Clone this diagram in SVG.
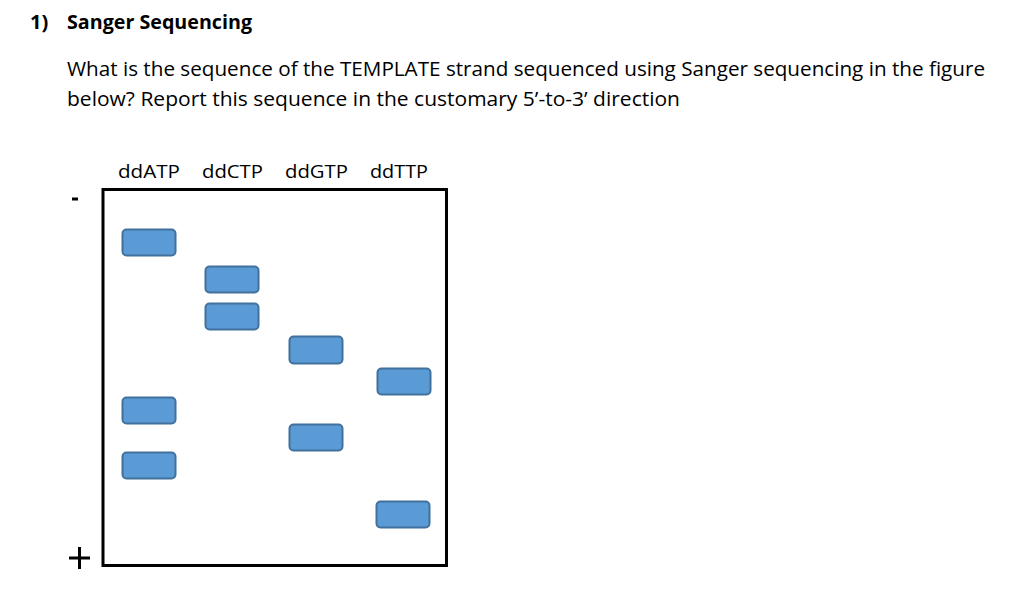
<svg xmlns="http://www.w3.org/2000/svg" width="1024" height="590" viewBox="0 0 1024 590">
<style>
text{font-family:"Open Sans","Liberation Sans",sans-serif;fill:#000}
.t{font-size:20px}
.h{font-size:20px;font-weight:bold}
.l{font-size:18px}
.band{fill:#5B9BD5;stroke:#41719C;stroke-width:2}
</style>
<rect width="1024" height="590" fill="#fff"/>
<text class="h" x="30" y="29">1)</text>
<text class="h" x="67" y="29" textLength="185" lengthAdjust="spacingAndGlyphs">Sanger Sequencing</text>
<text class="t" x="67" y="76" textLength="918" lengthAdjust="spacingAndGlyphs">What is the sequence of the TEMPLATE strand sequenced using Sanger sequencing in the figure</text>
<text class="t" x="67" y="106" textLength="613" lengthAdjust="spacingAndGlyphs">below? Report this sequence in the customary 5’-to-3’ direction</text>
<g id="labels">
<text class="l" x="118" y="178" textLength="62" lengthAdjust="spacingAndGlyphs">ddATP</text>
<text class="l" x="202" y="178" textLength="61" lengthAdjust="spacingAndGlyphs">ddCTP</text>
<text class="l" x="285" y="178" textLength="63" lengthAdjust="spacingAndGlyphs">ddGTP</text>
<text class="l" x="370" y="178" textLength="58" lengthAdjust="spacingAndGlyphs">ddTTP</text>
</g>
<g id="gel">
<rect x="103" y="189.5" width="343.5" height="376" fill="none" stroke="#000" stroke-width="3"/>
<line x1="72" y1="199" x2="78" y2="199" stroke="#000" stroke-width="3"/>
<line x1="69" y1="558" x2="90" y2="558" stroke="#000" stroke-width="3"/>
<line x1="79.5" y1="547" x2="79.5" y2="569" stroke="#000" stroke-width="3"/>
</g>
<g id="bands">
<rect class="band" x="122.5" y="229.5" width="53" height="26" rx="4"/>
<rect class="band" x="205.5" y="266.5" width="53" height="26" rx="4"/>
<rect class="band" x="205.5" y="303.5" width="53" height="26" rx="4"/>
<rect class="band" x="289.5" y="336.5" width="53" height="27" rx="4"/>
<rect class="band" x="377.5" y="368.5" width="53" height="26" rx="4"/>
<rect class="band" x="122.5" y="397.5" width="53" height="26" rx="4"/>
<rect class="band" x="289.5" y="424.5" width="53" height="26" rx="4"/>
<rect class="band" x="122.5" y="452.5" width="53" height="26" rx="4"/>
<rect class="band" x="376.5" y="501.5" width="53" height="26" rx="4"/>
</g>
</svg>
